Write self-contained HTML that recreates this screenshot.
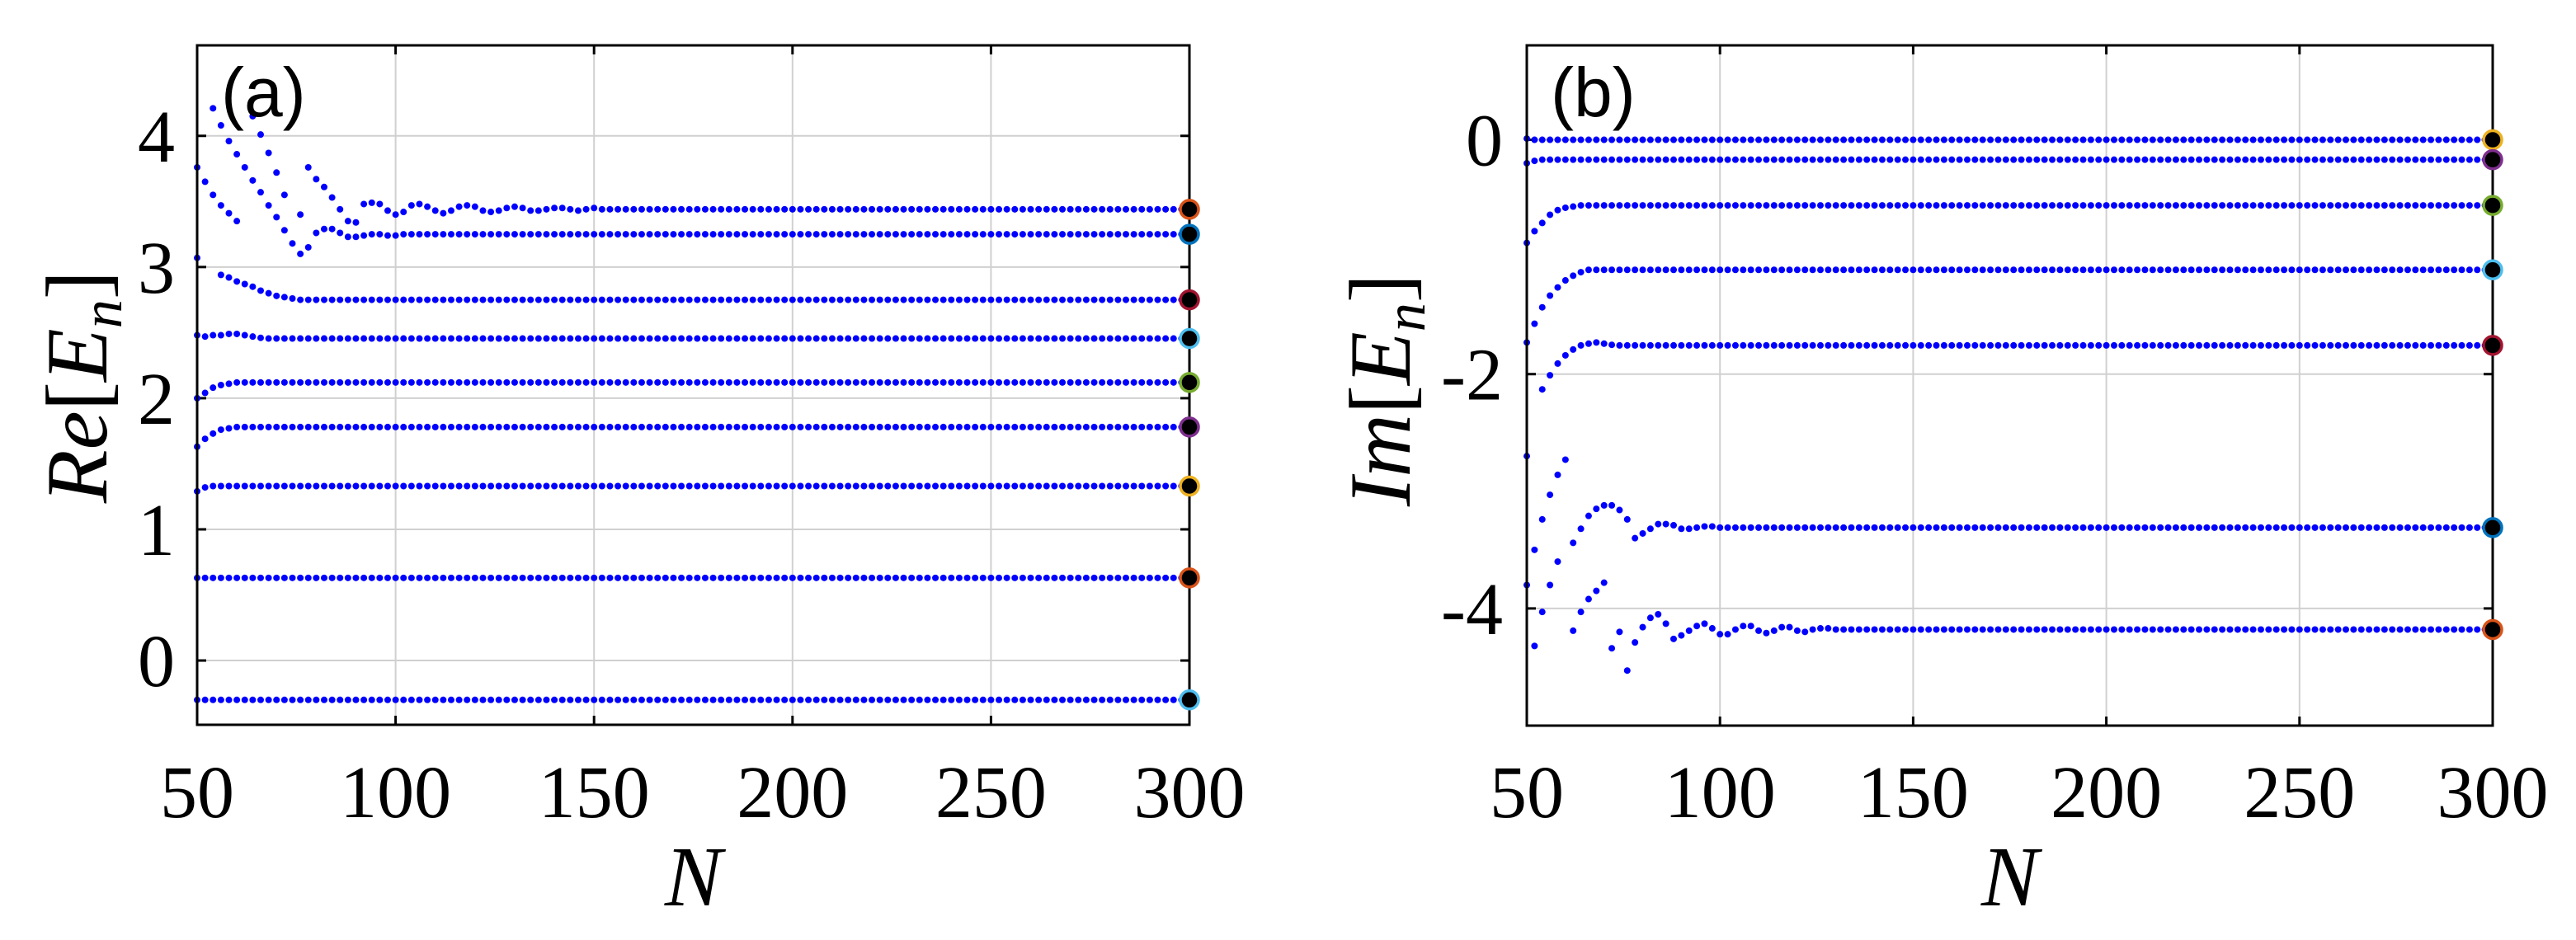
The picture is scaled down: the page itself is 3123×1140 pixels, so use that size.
<!DOCTYPE html>
<html><head><meta charset="utf-8"><style>
html,body{margin:0;padding:0;background:#fff;}
svg{display:block;}
text{font-family:"Liberation Serif",serif;fill:#000;}
</style></head><body>
<svg id="fig" width="3123" height="1140" viewBox="0 0 3123 1140" xmlns="http://www.w3.org/2000/svg"></svg>
<script>
// ---- data ----
const nStart = 50, nEnd = 300, nStep = 2;
const xTicks = [50, 100, 150, 200, 250, 300];
const yTicksA = [0, 1, 2, 3, 4];
const yTicksB = [0, -2, -4];
// panel (a): Re[E_n] — steady values and transient values (from N=50, step 2; null = no dot)
const steadyA = [3.44, 3.25, 2.75, 2.455, 2.12, 1.78, 1.33, 0.63, -0.30];
const transA0 = [3.76,3.65,3.55,3.47,3.41,3.35,null,4.15,4.01,3.87,3.72,3.55,null,3.40,3.76,3.67,3.61,3.53,3.44,3.35,3.34,3.48,3.49,3.48,3.43,3.40,3.42,3.47,3.48,3.46,3.43,3.41,3.43,3.46,3.47,3.46,3.43,3.42,3.43,3.45,3.46,3.45,3.43,3.43,3.44,3.45,3.45,3.44,3.43,3.44,3.45];
const transA1 = [null,null,4.21,4.08,3.96,3.86,3.76,3.66,3.57,3.47,3.38,3.28,3.18,3.10,3.15,3.26,3.29,3.29,3.26,3.23,3.23,3.24,3.25,3.25,3.24,3.24];
const transA2 = [3.07,null,null,2.94,2.92,2.89,2.87,2.85,2.82,2.80,2.78,2.77,2.76];
const transA3 = [2.48,2.47,2.48,2.48,2.49,2.49,2.48,2.47,2.46];
const transA4 = [2.00,2.04,2.08,2.10,2.11,2.12];
const transA5 = [1.63,1.69,1.73,1.76,1.77,1.78];
const transA6 = [1.29,1.32,1.33];
const transA7 = [0.63];
const transA8 = [-0.30];
const transA = [transA0, transA1, transA2, transA3, transA4, transA5, transA6, transA7, transA8];
const colorsA = ["#d95319","#0072bd","#a2142f","#4dbeee","#77ac30","#7e2f8e","#edb120","#d95319","#4dbeee"];
// panel (b): Im[E_n]
const steadyB = [0.0, -0.17, -0.56, -1.11, -1.755, -3.31, -4.18];
const transB0 = [0.01];
const transB1 = [-0.20,-0.18];
const transB2 = [-0.88,-0.78,-0.71,-0.64,-0.60,-0.58,-0.57];
const transB3 = [-1.73,-1.57,-1.43,-1.33,-1.26,-1.20,-1.16,-1.13,-1.11];
const transB4 = [-2.70,null,-2.13,-2.01,-1.91,-1.84,-1.79,-1.755,-1.74,-1.73,-1.74,-1.75];
const transB5 = [-3.80,-3.50,-3.24,-3.03,-2.86,-2.73,-3.44,-3.32,-3.21,-3.15,-3.12,-3.12,-3.16,-3.24,-3.40,-3.36,-3.32,-3.28,-3.28,-3.29,-3.32,-3.32,-3.31,-3.30,-3.30,-3.31];
const transB6 = [null,-4.32,-4.03,-3.80,-3.60,null,-4.19,-4.03,-3.92,-3.85,-3.78,-4.34,-4.20,-4.53,-4.29,-4.16,-4.08,-4.05,-4.13,-4.26,-4.23,-4.19,-4.15,-4.13,-4.17,-4.22,-4.22,-4.18,-4.15,-4.15,-4.19,-4.21,-4.19,-4.16,-4.16,-4.19,-4.20,-4.18,-4.17,-4.17,-4.18];
const transB = [transB0, transB1, transB2, transB3, transB4, transB5, transB6];
const colorsB = ["#edb120","#7e2f8e","#77ac30","#4dbeee","#a2142f","#0072bd","#d95319"];

// ---- drawing ----
const NS = "http://www.w3.org/2000/svg";
const svg = document.getElementById('fig');
function mk(tag, attrs, parent) {
  const el = document.createElementNS(NS, tag);
  for (const k in attrs) el.setAttribute(k, attrs[k]);
  (parent || svg).appendChild(el);
  return el;
}
function panel(cfg) {
  const g = mk('g', {});
  
  
  const {L, R, T, B, ymin, ymax} = cfg;
  const xs = n => L + (n - nStart) / (nEnd - nStart) * (R - L);
  const ys = v => B - (v - ymin) / (ymax - ymin) * (B - T);
  xTicks.forEach(t => {
    if (t > nStart && t < nEnd) {
      const l = mk('line', {x1: xs(t), x2: xs(t), y1: T, y2: B, stroke: '#d0d0d0', 'stroke-width': 2}, g);
      
      
    }
    const tb = mk('line', {x1: xs(t), x2: xs(t), y1: B, y2: B - 11, stroke: '#000', 'stroke-width': 3}, g);
    
    
    const tt = mk('line', {x1: xs(t), x2: xs(t), y1: T, y2: T + 11, stroke: '#000', 'stroke-width': 3}, g);
    
    
    const lab = mk('text', {x: xs(t), y: 991, 'text-anchor': 'middle', 'font-size': 90}, g);
    lab.textContent = t;
    
    
  });
  cfg.yTicks.forEach(t => {
    const l = mk('line', {x1: L, x2: R, y1: ys(t), y2: ys(t), stroke: '#d0d0d0', 'stroke-width': 2}, g);
    
    
    const tl = mk('line', {x1: L, x2: L + 11, y1: ys(t), y2: ys(t), stroke: '#000', 'stroke-width': 3}, g);
    
    
    const tr = mk('line', {x1: R, x2: R - 11, y1: ys(t), y2: ys(t), stroke: '#000', 'stroke-width': 3}, g);
    
    
    const lab = mk('text', {x: cfg.ylabX, y: ys(t) + 31, 'text-anchor': 'end', 'font-size': 90}, g);
    lab.textContent = t;
    
    
  });
  cfg.trans.forEach((tr, si) => {
    const sg = mk('g', {fill: '#0000ff'}, g);
    
    
    let i = 0;
    for (let n = nStart; n <= nEnd; n += nStep, i++) {
      const v = i < tr.length ? tr[i] : cfg.steady[si];
      if (v === null || v > ymax || v < ymin) continue;
      const c = mk('circle', {cx: xs(n), cy: ys(v), r: 4.0}, sg);
      
      
    }
  });
  const fr = mk('rect', {x: L, y: T, width: R - L, height: B - T, fill: 'none', stroke: '#000', 'stroke-width': 3}, g);
  
  
  cfg.steady.forEach((v, si) => {
    const m = mk('circle', {cx: xs(nEnd), cy: ys(v), r: 11, fill: '#000', stroke: cfg.colors[si], 'stroke-width': 3.5}, g);
    
    
  });
  const pl = mk('text', {x: L + 29, y: T + 86, 'font-size': 84, style: 'font-family:"Liberation Sans",sans-serif'}, g);
  pl.textContent = cfg.tag;
  
  
  const xl = mk('text', {x: (L + R) / 2, y: 1098, 'text-anchor': 'middle', 'font-size': 104, 'font-style': 'italic'}, g);
  xl.textContent = 'N';
  
  
  const yl = mk('text', {x: 0, y: 0, 'text-anchor': 'middle', 'font-size': 106, transform: 'translate(' + (cfg.yTitleX + 36) + ',' + cfg.yTitleY + ') rotate(-90)'}, g);
  
  
  const t1 = mk('tspan', {'font-style': 'italic'}, yl); t1.textContent = cfg.yTitle;
  const t2 = mk('tspan', {}, yl); t2.textContent = '[';
  const t3 = mk('tspan', {'font-style': 'italic'}, yl); t3.textContent = 'E';
  const t4 = mk('tspan', {'font-style': 'italic', 'font-size': 70, dy: 18}, yl); t4.textContent = 'n';
  const t5 = mk('tspan', {dy: -18}, yl); t5.textContent = ']';
}
panel({name: 'panel-a-real-part', tag: '(a)', L: 239, R: 1442, T: 55, B: 879, ymin: -0.49, ymax: 4.69,
  yTicks: yTicksA, ylabX: 212, steady: steadyA, trans: transA, colors: colorsA,
  yTitle: 'Re', yTitleX: 93, yTitleY: 469});
panel({name: 'panel-b-imag-part', tag: '(b)', L: 1851, R: 3022, T: 55, B: 880, ymin: -5.0, ymax: 0.806,
  yTicks: yTicksB, ylabX: 1822, steady: steadyB, trans: transB, colors: colorsB,
  yTitle: 'Im', yTitleX: 1673, yTitleY: 473});
</script>
</body></html>
